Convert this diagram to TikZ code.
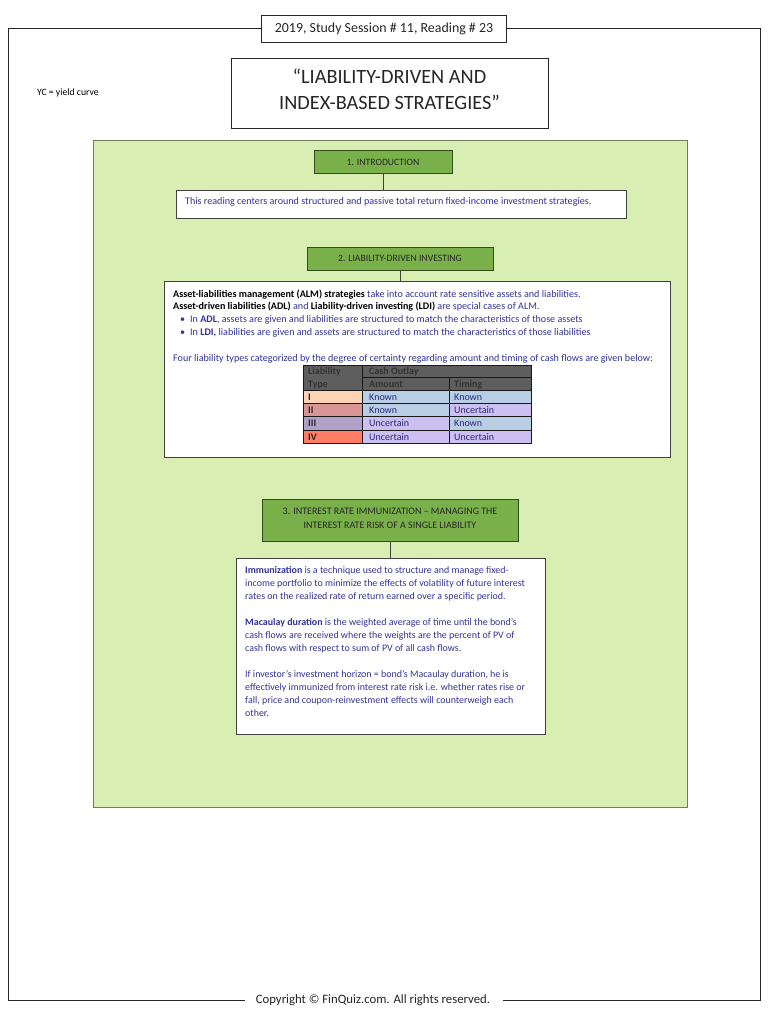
\documentclass[tikz,border=0pt]{standalone}
\usepackage{fontspec}
\setmainfont{Carlito}
\definecolor{txtblue}{HTML}{333399}
\definecolor{bgreen}{HTML}{D8EEB2}
\definecolor{bgreenline}{HTML}{6E7F5A}
\definecolor{hgreen}{HTML}{79B04A}
\definecolor{hgreenline}{HTML}{334D1A}
\definecolor{thead}{HTML}{5E5E5E}
\definecolor{rI}{HTML}{FBD4B4}
\definecolor{rII}{HTML}{D99694}
\definecolor{rIII}{HTML}{B2A1C7}
\definecolor{rIV}{HTML}{FF7C66}
\definecolor{known}{HTML}{B9CDE5}
\definecolor{unc}{HTML}{CCC0F2}
\tikzset{
  framebox/.style={draw=black!85, line width=0.8pt, fill=white},
  greenbox/.style={draw=hgreenline, line width=1pt, fill=hgreen, inner sep=0pt,
     font=\fontsize{9.7}{10}\selectfont, text=black!85},
  whitebox/.style={draw=black!75, line width=1pt, fill=white, inner sep=0pt},
  conn/.style={draw=black!75, line width=1pt},
  bodyline/.style={anchor=base west, inner sep=0pt, text=txtblue},
  cell/.style={anchor=base west, inner sep=0pt, font=\fontsize{10}{11}\selectfont},
  headcell/.style={cell, text=black!80, font=\bfseries\fontsize{10}{11}\selectfont},
  bodycell/.style={cell, text=txtblue!80!black},
}
\begin{document}
\begin{tikzpicture}[x=1pt,y=-1pt]
\useasboundingbox (0,0) rectangle (768,1024);
\fill[white] (0,0) rectangle (768,1024);
% outer frame
\coordinate (ftl) at (8,28);
\coordinate (ftr) at (760,28);
\coordinate (fbl) at (8,1000);
\coordinate (fbr) at (760,1000);
\node[framebox, minimum width=245, minimum height=27, inner sep=0pt,
      font=\fontsize{13.9}{16}\selectfont, text=black!85] (hdr) at (384,28.5) {2019, Study Session \# 11, Reading \# 23};
\node[inner sep=0pt, font=\fontsize{12.75}{14}\selectfont, text=black!85] (copy) at (373,1000) {Copyright © FinQuiz.com. All rights reserved.};
\draw[black!85, line width=0.8pt] (hdr.west |- ftl) -- (ftl) -- (fbl) -- (245,1000);
\draw[black!85, line width=0.8pt] (hdr.east |- ftr) -- (ftr) -- (fbr) -- (503,1000);
% title
\node[framebox, minimum width=317, minimum height=70, inner sep=0pt] (title) at (389.5,93) {};
\node[inner sep=0pt, align=center, font=\fontsize{20.3}{26}\selectfont, text=black!85] (titletxt) at (389.5,89)
      {“LIABILITY-DRIVEN AND\\INDEX-BASED STRATEGIES”};
\node[anchor=west, inner sep=0pt, font=\fontsize{9.7}{11}\selectfont] (yc) at (37,93) {YC = yield curve};
% green background
\node[draw=bgreenline, line width=1pt, fill=bgreen, minimum width=594, minimum height=667,
      anchor=north west, inner sep=0pt] (bg) at (93,140) {};
% section 1
\node[greenbox, minimum width=138, minimum height=23] (intro) at (383,162.5) {1. INTRODUCTION};
\node[whitebox, minimum width=450, minimum height=28, anchor=north west] (introbox) at (176,190) {};
\node[bodyline, font=\fontsize{10.1}{12}\selectfont] (introtxt) at (185,205) {This reading centers around structured and passive total return fixed-income investment strategies.};
\draw[conn] (intro.south) -- (introbox.north -| intro.south);
% section 2
\node[greenbox, minimum width=186, minimum height=23] (ldi) at (400,258.5) {2. LIABILITY-DRIVEN INVESTING};
\node[whitebox, minimum width=506, minimum height=176, anchor=north west] (ldibox) at (164,281) {};
\draw[conn] (ldi.south) -- (ldibox.north -| ldi.south);
\begin{scope}[every node/.append style={font=\fontsize{10.1}{12}\selectfont}]
\node[bodyline] (l1) at (173,297) {\textcolor{black}{\bfseries Asset-liabilities management (ALM) strategies} take into account rate sensitive assets and liabilities.};
\node[bodyline] (l2) at (173,309.7) {\textcolor{black}{\bfseries Asset-driven liabilities (ADL)} and \textcolor{black}{\bfseries Liability-driven investing (LDI)} are special cases of ALM.};
\node[bodyline] (b1) at (180,322.4) {•};
\node[bodyline] (l3) at (190,322.4) {In \textbf{ADL}, assets are given and liabilities are structured to match the characteristics of those assets};
\node[bodyline] (b2) at (180,335.1) {•};
\node[bodyline] (l4) at (190,335.1) {In \textbf{LDI,} liabilities are given and assets are structured to match the characteristics of those liabilities};
\node[bodyline] (l5) at (173,361.5) {Four liability types categorized by the degree of certainty regarding amount and timing of cash flows are given below:};
\end{scope}
% table
\def\xa{303}\def\xb{362.5}\def\xc{449}\def\xd{531}
\fill[thead] (\xa,365) rectangle (\xd,390);
\fill[rI] (\xa,390) rectangle (\xb,403.4);
\fill[rII] (\xa,403.4) rectangle (\xb,416.8);
\fill[rIII] (\xa,416.8) rectangle (\xb,430.2);
\fill[rIV] (\xa,430.2) rectangle (\xb,443.6);
\fill[known] (\xb,390) rectangle (\xd,403.4);
\fill[known] (\xb,403.4) rectangle (\xc,416.8);
\fill[unc] (\xc,403.4) rectangle (\xd,416.8);
\fill[unc] (\xb,416.8) rectangle (\xc,430.2);
\fill[known] (\xc,416.8) rectangle (\xd,430.2);
\fill[unc] (\xb,430.2) rectangle (\xd,443.6);
\begin{scope}[black!90, line width=0.9pt]
\draw (\xa,365) rectangle (\xd,443.6);
\draw (\xb,365) -- (\xb,443.6);
\draw (\xc,377.5) -- (\xc,443.6);
\draw (\xb,377.5) -- (\xd,377.5);
\foreach \yy in {390,403.4,416.8,430.2} \draw (\xa,\yy) -- (\xd,\yy);
\end{scope}
\node[headcell] (h1) at (308,374.5) {Liability};
\node[headcell] (h2) at (308,387) {Type};
\node[headcell] (h3) at (369,374.5) {Cash Outlay};
\node[headcell] (h4) at (369,387) {Amount};
\node[headcell] (h5) at (454,387) {Timing};
\node[headcell, text=black!85] (r1) at (308,400) {I};
\node[headcell, text=black!85] (r2) at (308,413.4) {II};
\node[headcell, text=black!85] (r3) at (308,426.8) {III};
\node[headcell, text=black!85] (r4) at (308,440.2) {IV};
\node[bodycell] (c11) at (369,400) {Known};
\node[bodycell] (c12) at (454,400) {Known};
\node[bodycell] (c21) at (369,413.4) {Known};
\node[bodycell] (c22) at (454,413.4) {Uncertain};
\node[bodycell] (c31) at (369,426.8) {Uncertain};
\node[bodycell] (c32) at (454,426.8) {Known};
\node[bodycell] (c41) at (369,440.2) {Uncertain};
\node[bodycell] (c42) at (454,440.2) {Uncertain};
% section 3
\node[greenbox, minimum width=256, minimum height=42] (imm) at (390,520) {};
\node[inner sep=0pt, align=center, font=\fontsize{10}{14}\selectfont, text=black!85] (immtxt) at (390,518)
      {3. INTEREST RATE IMMUNIZATION – MANAGING THE\\INTEREST RATE RISK OF A SINGLE LIABILITY};
\node[whitebox, minimum width=309, minimum height=176, anchor=north west] (immbox) at (236,558) {};
\draw[conn] (imm.south) -- (immbox.north -| imm.south);
\begin{scope}[every node/.append style={font=\fontsize{9.95}{13}\selectfont}]
\node[bodyline] (m1) at (245,573) {\textbf{Immunization} is a technique used to structure and manage fixed-};
\node[bodyline] (m2) at (245,586) {income portfolio to minimize the effects of volatility of future interest};
\node[bodyline] (m3) at (245,599) {rates on the realized rate of return earned over a specific period.};
\node[bodyline] (m4) at (245,625) {\textbf{Macaulay duration} is the weighted average of time until the bond’s};
\node[bodyline] (m5) at (245,638) {cash flows are received where the weights are the percent of PV of};
\node[bodyline] (m6) at (245,651) {cash flows with respect to sum of PV of all cash flows.};
\node[bodyline] (m7) at (245,677) {If investor’s investment horizon = bond’s Macaulay duration, he is};
\node[bodyline] (m8) at (245,690) {effectively immunized from interest rate risk i.e. whether rates rise or};
\node[bodyline] (m9) at (245,703) {fall, price and coupon-reinvestment effects will counterweigh each};
\node[bodyline] (m10) at (245,716) {other.};
\end{scope}
\end{tikzpicture}
\end{document}
